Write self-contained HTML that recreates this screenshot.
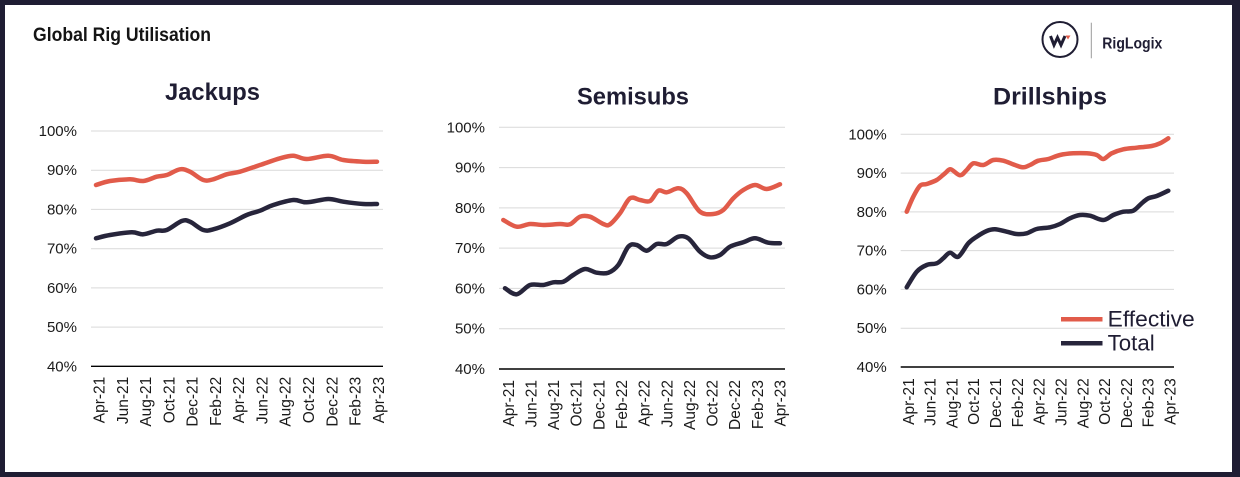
<!DOCTYPE html>
<html>
<head>
<meta charset="utf-8">
<style>
  html,body{margin:0;padding:0;background:#1f1d33;}
  body{width:1240px;height:477px;overflow:hidden;}
  svg{display:block;}
  text{font-family:"Liberation Sans",Arial,sans-serif;}
  .yl{font-size:15px;fill:#1a1a1a;text-anchor:end;}
  .xl{font-size:15.5px;fill:#1a1a1a;text-anchor:end;}
  .ttl{font-size:24px;font-weight:bold;fill:#1f1d33;text-anchor:middle;}
  .grid{stroke:#d9d9d9;stroke-width:1;}
  .axis{stroke:#000;stroke-width:1.4;}
  .red{fill:none;stroke:#e15b4a;stroke-width:4.5;stroke-linejoin:round;stroke-linecap:round;}
  .dark{fill:none;stroke:#27253b;stroke-width:4.5;stroke-linejoin:round;stroke-linecap:round;}
</style>
</head>
<body>
<svg width="1240" height="477" viewBox="0 0 1240 477" xmlns="http://www.w3.org/2000/svg">
  <rect x="0" y="0" width="1240" height="477" fill="#1f1d33"/>
  <rect x="5" y="5" width="1227" height="467" fill="#ffffff"/>

  <!-- Header -->
  <text x="33" y="41" font-size="19" font-weight="bold" fill="#141414" textLength="178" lengthAdjust="spacingAndGlyphs">Global Rig Utilisation</text>

  <!-- Logo -->
  <circle cx="1060" cy="39.5" r="17.5" fill="none" stroke="#1f1d33" stroke-width="2"/>
  <polyline points="1050.5,36 1054,45 1057.5,37.5 1061,45 1065,36" fill="none" stroke="#1f1d33" stroke-width="3" stroke-linejoin="miter"/>
  <polygon points="1065.5,35.5 1070.5,35.5 1068,39.5" fill="#e15b4a"/>
  <line x1="1091.3" y1="22.7" x2="1091.3" y2="58.3" stroke="#9a9a9a" stroke-width="1"/>
  <text x="1102.3" y="48.3" font-size="16" font-weight="bold" fill="#1f1d33" textLength="60" lengthAdjust="spacingAndGlyphs">RigLogix</text>

  <!-- ===== Jackups ===== -->
  <text class="ttl" x="212.5" y="100" textLength="95" lengthAdjust="spacingAndGlyphs">Jackups</text>
  <g>
    <line class="grid" x1="91" y1="131" x2="383" y2="131"/>
    <line class="grid" x1="91" y1="170.2" x2="383" y2="170.2"/>
    <line class="grid" x1="91" y1="209.4" x2="383" y2="209.4"/>
    <line class="grid" x1="91" y1="248.7" x2="383" y2="248.7"/>
    <line class="grid" x1="91" y1="287.9" x2="383" y2="287.9"/>
    <line class="grid" x1="91" y1="327.1" x2="383" y2="327.1"/>
    <line class="axis" x1="91" y1="366.3" x2="383" y2="366.3"/>
    <text class="yl" x="77" y="136">100%</text>
    <text class="yl" x="77" y="175.2">90%</text>
    <text class="yl" x="77" y="214.4">80%</text>
    <text class="yl" x="77" y="253.7">70%</text>
    <text class="yl" x="77" y="292.9">60%</text>
    <text class="yl" x="77" y="332.1">50%</text>
    <text class="yl" x="77" y="371.3">40%</text>
  </g>
  <g>
    <text class="xl" transform="translate(104.5,376.7) rotate(-90)">Apr-21</text>
    <text class="xl" transform="translate(127.8,376.7) rotate(-90)">Jun-21</text>
    <text class="xl" transform="translate(151.1,376.7) rotate(-90)">Aug-21</text>
    <text class="xl" transform="translate(174.3,376.7) rotate(-90)">Oct-21</text>
    <text class="xl" transform="translate(197.6,376.7) rotate(-90)">Dec-21</text>
    <text class="xl" transform="translate(220.9,376.7) rotate(-90)">Feb-22</text>
    <text class="xl" transform="translate(244.2,376.7) rotate(-90)">Apr-22</text>
    <text class="xl" transform="translate(267.5,376.7) rotate(-90)">Jun-22</text>
    <text class="xl" transform="translate(290.7,376.7) rotate(-90)">Aug-22</text>
    <text class="xl" transform="translate(314,376.7) rotate(-90)">Oct-22</text>
    <text class="xl" transform="translate(337.3,376.7) rotate(-90)">Dec-22</text>
    <text class="xl" transform="translate(360.6,376.7) rotate(-90)">Feb-23</text>
    <text class="xl" transform="translate(383.8,376.7) rotate(-90)">Apr-23</text>
  </g>
  <polyline class="red smooth" points="96,185 110,181 130,179.3 143.3,181 156.7,176.7 166.7,175 180,169.3 190,171.7 203.3,180 213.3,179.3 226.7,174.3 240,171.7 260,165 280,158.3 293.3,155.7 306.7,159 328.3,155.7 343.3,160 363.3,161.7 377,161.7"/>
  <polyline class="dark smooth" points="96,238.3 110,235 131.7,232.3 143.3,234.3 156.7,230.7 166.7,230 181.7,221 190,221.7 203.3,230 213.3,229.3 230,223.3 246.7,215 260,210.7 273.3,205 293.3,200 306.7,202.3 328.3,199 343.3,201.7 363.3,204 377,204"/>

  <!-- ===== Semisubs ===== -->
  <text class="ttl" x="633" y="104.3" textLength="112" lengthAdjust="spacingAndGlyphs">Semisubs</text>
  <g>
    <line class="grid" x1="499" y1="127.3" x2="785" y2="127.3"/>
    <line class="grid" x1="499" y1="167.6" x2="785" y2="167.6"/>
    <line class="grid" x1="499" y1="207.9" x2="785" y2="207.9"/>
    <line class="grid" x1="499" y1="248.1" x2="785" y2="248.1"/>
    <line class="grid" x1="499" y1="288.4" x2="785" y2="288.4"/>
    <line class="grid" x1="499" y1="328.7" x2="785" y2="328.7"/>
    <line class="axis" x1="499" y1="369" x2="785" y2="369"/>
    <text class="yl" x="485" y="132.3">100%</text>
    <text class="yl" x="485" y="172.6">90%</text>
    <text class="yl" x="485" y="212.9">80%</text>
    <text class="yl" x="485" y="253.1">70%</text>
    <text class="yl" x="485" y="293.4">60%</text>
    <text class="yl" x="485" y="333.7">50%</text>
    <text class="yl" x="485" y="374">40%</text>
  </g>
  <g>
    <text class="xl" transform="translate(513.8,380) rotate(-90)">Apr-21</text>
    <text class="xl" transform="translate(536.4,380) rotate(-90)">Jun-21</text>
    <text class="xl" transform="translate(559.1,380) rotate(-90)">Aug-21</text>
    <text class="xl" transform="translate(581.7,380) rotate(-90)">Oct-21</text>
    <text class="xl" transform="translate(604.4,380) rotate(-90)">Dec-21</text>
    <text class="xl" transform="translate(627,380) rotate(-90)">Feb-22</text>
    <text class="xl" transform="translate(649.6,380) rotate(-90)">Apr-22</text>
    <text class="xl" transform="translate(672.3,380) rotate(-90)">Jun-22</text>
    <text class="xl" transform="translate(694.9,380) rotate(-90)">Aug-22</text>
    <text class="xl" transform="translate(717.6,380) rotate(-90)">Oct-22</text>
    <text class="xl" transform="translate(740.2,380) rotate(-90)">Dec-22</text>
    <text class="xl" transform="translate(762.9,380) rotate(-90)">Feb-23</text>
    <text class="xl" transform="translate(785.5,380) rotate(-90)">Apr-23</text>
  </g>
  <polyline class="red smooth" points="503.3,220 516.7,226.7 530,224 543.3,225 560,224 570,224.3 580,216.7 590,216.7 603.3,224 610,224.3 620,213.3 630,198.3 640,200 650,201 658.3,190.7 666.7,192.3 678.3,188.3 686.7,193.3 700,211.7 713.3,214 723.3,210 733.3,198.3 743.3,190 755,185 766.7,189 780,184.3"/>
  <polyline class="dark smooth" points="505,288.3 516.7,294.3 530,285 543.3,285 553.3,282.3 563.3,281.7 573.3,275 585,269 596.7,272.7 608.3,272.7 618.3,265 628.3,246.7 636.7,245 646.7,250.7 656.7,244 666.7,244 678.3,236.7 688.3,238.3 700,251.7 710,257.3 720,255 730,246.7 743.3,242.3 755,238.3 768.3,242.7 780,243.3"/>

  <!-- ===== Drillships ===== -->
  <text class="ttl" x="1050" y="104.3" textLength="114" lengthAdjust="spacingAndGlyphs">Drillships</text>
  <g>
    <line class="grid" x1="900.7" y1="134.3" x2="1174" y2="134.3"/>
    <line class="grid" x1="900.7" y1="173.1" x2="1174" y2="173.1"/>
    <line class="grid" x1="900.7" y1="211.9" x2="1174" y2="211.9"/>
    <line class="grid" x1="900.7" y1="250.6" x2="1174" y2="250.6"/>
    <line class="grid" x1="900.7" y1="289.4" x2="1174" y2="289.4"/>
    <line class="grid" x1="900.7" y1="328.2" x2="1174" y2="328.2"/>
    <line class="axis" x1="900.7" y1="367" x2="1174" y2="367"/>
    <text class="yl" x="886.7" y="139.3">100%</text>
    <text class="yl" x="886.7" y="178.1">90%</text>
    <text class="yl" x="886.7" y="216.9">80%</text>
    <text class="yl" x="886.7" y="255.6">70%</text>
    <text class="yl" x="886.7" y="294.4">60%</text>
    <text class="yl" x="886.7" y="333.2">50%</text>
    <text class="yl" x="886.7" y="372">40%</text>
  </g>
  <g>
    <text class="xl" transform="translate(913.8,378.3) rotate(-90)">Apr-21</text>
    <text class="xl" transform="translate(935.6,378.3) rotate(-90)">Jun-21</text>
    <text class="xl" transform="translate(957.4,378.3) rotate(-90)">Aug-21</text>
    <text class="xl" transform="translate(979.2,378.3) rotate(-90)">Oct-21</text>
    <text class="xl" transform="translate(1001,378.3) rotate(-90)">Dec-21</text>
    <text class="xl" transform="translate(1022.9,378.3) rotate(-90)">Feb-22</text>
    <text class="xl" transform="translate(1044.7,378.3) rotate(-90)">Apr-22</text>
    <text class="xl" transform="translate(1066.5,378.3) rotate(-90)">Jun-22</text>
    <text class="xl" transform="translate(1088.3,378.3) rotate(-90)">Aug-22</text>
    <text class="xl" transform="translate(1110.1,378.3) rotate(-90)">Oct-22</text>
    <text class="xl" transform="translate(1131.9,378.3) rotate(-90)">Dec-22</text>
    <text class="xl" transform="translate(1153.7,378.3) rotate(-90)">Feb-23</text>
    <text class="xl" transform="translate(1175.5,378.3) rotate(-90)">Apr-23</text>
  </g>
  <polyline class="red smooth" points="906.7,211.7 913.3,196.7 920,185.7 926.7,184 936.7,180 945,173.3 950.7,169.3 960,175.3 966.7,170 973.3,163.3 983.3,165 993.3,160 1003.3,160.7 1015,165 1023.3,167.3 1030,165 1038.3,160.7 1048.3,159 1060,155 1073.3,153.3 1086.7,153.3 1096.7,155 1103.3,159 1111.7,153.3 1123.3,149.3 1136.7,147.7 1151.7,146 1160,143.3 1168.3,138.3"/>
  <polyline class="dark smooth" points="906.7,287.3 916.7,271.7 926.7,265 936.7,263.3 943.3,258.3 950,252.7 958.3,256.7 968.3,243.3 976.7,236.7 986.7,231 995,229.3 1006.7,231.7 1016.7,234 1026.7,233.3 1036.7,229 1050,227.3 1060,224 1070,218.3 1080,215 1090,215.7 1103.3,220 1113.3,215 1123.3,211.7 1133.3,210.7 1141.7,203.3 1148.3,198.3 1156.7,196 1168.3,190.7"/>

  <!-- Legend -->
  <line x1="1061" y1="319.3" x2="1102.5" y2="319.3" stroke="#e15b4a" stroke-width="4.5"/>
  <text x="1107.7" y="326.7" font-size="22" fill="#1f1d33" textLength="87" lengthAdjust="spacingAndGlyphs">Effective</text>
  <line x1="1061" y1="343.3" x2="1102.5" y2="343.3" stroke="#27253b" stroke-width="4.5"/>
  <text x="1107.7" y="350.5" font-size="22" fill="#1f1d33" textLength="47" lengthAdjust="spacingAndGlyphs">Total</text>
</svg>
<script>
(function(){
  try{
    var ns="http://www.w3.org/2000/svg";
    var pls=document.querySelectorAll("polyline.smooth");
    for(var k=0;k<pls.length;k++){
      var pl=pls[k];
      var raw=pl.getAttribute("points").trim().split(/\s+/).map(function(s){var a=s.split(",");return [parseFloat(a[0]),parseFloat(a[1])];});
      var d="M"+raw[0][0]+","+raw[0][1];
      for(var i=0;i<raw.length-1;i++){
        var p0=raw[i-1]||raw[i],p1=raw[i],p2=raw[i+1],p3=raw[i+2]||p2;
        var c1x=p1[0]+(p2[0]-p0[0])/6,c1y=p1[1]+(p2[1]-p0[1])/6;
        var c2x=p2[0]-(p3[0]-p1[0])/6,c2y=p2[1]-(p3[1]-p1[1])/6;
        d+=" C"+c1x.toFixed(2)+","+c1y.toFixed(2)+" "+c2x.toFixed(2)+","+c2y.toFixed(2)+" "+p2[0]+","+p2[1];
      }
      var path=document.createElementNS(ns,"path");
      path.setAttribute("d",d);
      path.setAttribute("class",pl.getAttribute("class"));
      pl.parentNode.replaceChild(path,pl);
    }
  }catch(e){}
})();
</script>
</body>
</html>
